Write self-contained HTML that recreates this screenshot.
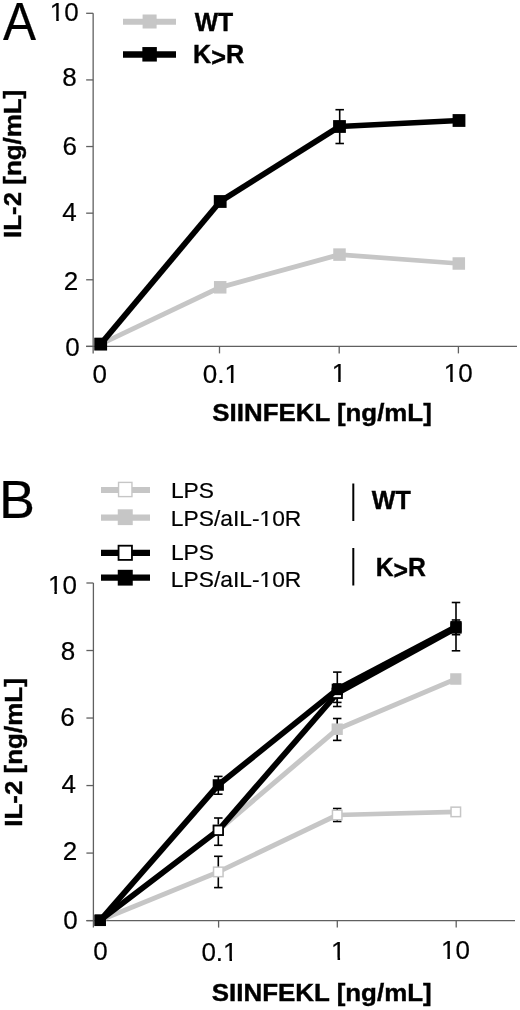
<!DOCTYPE html>
<html><head><meta charset="utf-8"><title>IL-2 response to SIINFEKL</title>
<style>html,body{margin:0;padding:0;background:#fff;width:520px;height:1010px;overflow:hidden}svg{display:block;filter:blur(0.3px)}text{font-family:"Liberation Sans",Arial,Helvetica,sans-serif}</style>
</head><body>
<svg width="520" height="1010" viewBox="0 0 520 1010" font-family="Liberation Sans, Arial, Helvetica, sans-serif" fill="#000">
<text x="2.93" y="39.85" font-size="52.80" stroke="#000" stroke-width="0.2" textLength="33.05" lengthAdjust="spacingAndGlyphs">A</text>
<text x="49.80" y="20.90" font-size="26.00" stroke="#000" stroke-width="0.2">10</text>
<rect x="50.58" y="18.76" width="5.66" height="3.24" fill="#fff"/>
<rect x="58.74" y="18.76" width="5.55" height="3.24" fill="#fff"/>
<text x="62.29" y="86.37" font-size="26.00" stroke="#000" stroke-width="0.2">8</text>
<text x="62.50" y="155.39" font-size="26.00" stroke="#000" stroke-width="0.2">6</text>
<text x="62.27" y="220.80" font-size="26.00" stroke="#000" stroke-width="0.2">4</text>
<text x="63.82" y="289.61" font-size="26.00" stroke="#000" stroke-width="0.2">2</text>
<text x="65.25" y="355.62" font-size="26.00" stroke="#000" stroke-width="0.2">0</text>
<text x="92.50" y="382.61" font-size="26.00" stroke="#000" stroke-width="0.2">0</text>
<text x="202.76" y="382.80" font-size="26.00" stroke="#000" stroke-width="0.2">0.1</text>
<rect x="225.21" y="380.76" width="5.66" height="3.24" fill="#fff"/>
<rect x="233.36" y="380.76" width="5.55" height="3.24" fill="#fff"/>
<text x="331.75" y="382.25" font-size="26.00" stroke="#000" stroke-width="0.2">1</text>
<rect x="332.53" y="379.76" width="5.66" height="3.24" fill="#fff"/>
<rect x="340.69" y="379.76" width="5.55" height="3.24" fill="#fff"/>
<text x="443.85" y="382.30" font-size="26.00" stroke="#000" stroke-width="0.2">10</text>
<rect x="444.63" y="379.76" width="5.66" height="3.24" fill="#fff"/>
<rect x="452.79" y="379.76" width="5.55" height="3.24" fill="#fff"/>
<text x="212.35" y="421.30" font-size="24.20" font-weight="bold" stroke="#000" stroke-width="0.4" textLength="219.45" lengthAdjust="spacingAndGlyphs">SIINFEKL [ng/mL]</text>
<text x="0" y="0" font-size="24.80" font-weight="bold" stroke="#000" stroke-width="0.4" textLength="148.21" lengthAdjust="spacingAndGlyphs" transform="translate(21.26,237.96) rotate(-90)">IL-2 [ng/mL]</text>
<text x="194.67" y="30.59" font-size="25.80" font-weight="bold" stroke="#000" stroke-width="0.4" textLength="38.52" lengthAdjust="spacingAndGlyphs">WT</text>
<text x="193.08" y="63.25" font-size="25.80" font-weight="bold" stroke="#000" stroke-width="0.4" textLength="51.16" lengthAdjust="spacingAndGlyphs">K<tspan dy="2.4">&gt;</tspan><tspan dy="-2.4">R</tspan></text>
<line x1="93.15" y1="13.3" x2="93.15" y2="353.4" stroke="#606060" stroke-width="1.3"/>
<line x1="86.15" y1="346.4" x2="93.15" y2="346.4" stroke="#606060" stroke-width="1.3"/>
<line x1="86.15" y1="279.78" x2="93.15" y2="279.78" stroke="#606060" stroke-width="1.3"/>
<line x1="86.15" y1="213.16" x2="93.15" y2="213.16" stroke="#606060" stroke-width="1.3"/>
<line x1="86.15" y1="146.54" x2="93.15" y2="146.54" stroke="#606060" stroke-width="1.3"/>
<line x1="86.15" y1="79.92000000000002" x2="93.15" y2="79.92000000000002" stroke="#606060" stroke-width="1.3"/>
<line x1="86.15" y1="13.300000000000011" x2="93.15" y2="13.300000000000011" stroke="#606060" stroke-width="1.3"/>
<line x1="86.15" y1="346.4" x2="517" y2="346.4" stroke="#606060" stroke-width="1.3"/>
<line x1="219.5" y1="346.4" x2="219.5" y2="353.4" stroke="#606060" stroke-width="1.3"/>
<line x1="339.2" y1="346.4" x2="339.2" y2="353.4" stroke="#606060" stroke-width="1.3"/>
<line x1="458.4" y1="346.4" x2="458.4" y2="353.4" stroke="#606060" stroke-width="1.3"/>
<line x1="123" y1="21.7" x2="176" y2="21.7" stroke="#c6c6c6" stroke-width="6"/>
<rect x="142.60" y="14.50" width="14" height="14" fill="#c6c6c6"/>
<line x1="123" y1="54.6" x2="176" y2="54.6" stroke="#000" stroke-width="6.5"/>
<rect x="142.35" y="47.05" width="14.5" height="14.5" fill="#000"/>
<line x1="100.70" y1="344.10" x2="220.20" y2="287.30" stroke="#c6c6c6" stroke-width="4.92"/>
<line x1="220.20" y1="287.30" x2="339.50" y2="254.60" stroke="#c6c6c6" stroke-width="4.83"/>
<line x1="339.50" y1="254.60" x2="458.80" y2="263.50" stroke="#c6c6c6" stroke-width="4.74"/>
<rect x="94.45" y="337.85" width="12.5" height="12.5" fill="#c6c6c6"/>
<rect x="213.95" y="281.05" width="12.5" height="12.5" fill="#c6c6c6"/>
<rect x="333.25" y="248.35" width="12.5" height="12.5" fill="#c6c6c6"/>
<rect x="452.55" y="257.25" width="12.5" height="12.5" fill="#c6c6c6"/>
<line x1="339.7" y1="109.7" x2="339.7" y2="143.5" stroke="#000" stroke-width="1.6"/>
<line x1="335.45" y1="109.7" x2="343.95" y2="109.7" stroke="#000" stroke-width="1.6"/>
<line x1="335.45" y1="143.5" x2="343.95" y2="143.5" stroke="#000" stroke-width="1.6"/>
<line x1="100.70" y1="344.10" x2="220.20" y2="201.50" stroke="#000" stroke-width="5.80"/>
<line x1="220.20" y1="201.50" x2="339.50" y2="126.50" stroke="#000" stroke-width="5.77"/>
<line x1="339.50" y1="126.50" x2="459.00" y2="120.50" stroke="#000" stroke-width="5.43"/>
<rect x="94.30" y="337.70" width="12.8" height="12.8" fill="#000"/>
<rect x="213.80" y="195.10" width="12.8" height="12.8" fill="#000"/>
<rect x="333.10" y="120.10" width="12.8" height="12.8" fill="#000"/>
<rect x="452.60" y="114.10" width="12.8" height="12.8" fill="#000"/>
<text x="-1.08" y="518.25" font-size="52.80" stroke="#000" stroke-width="0.2" textLength="35.98" lengthAdjust="spacingAndGlyphs">B</text>
<text x="47.94" y="593.50" font-size="26.00" stroke="#000" stroke-width="0.2">10</text>
<rect x="48.72" y="590.76" width="5.66" height="3.24" fill="#fff"/>
<rect x="56.87" y="590.76" width="5.55" height="3.24" fill="#fff"/>
<text x="60.67" y="659.97" font-size="26.00" stroke="#000" stroke-width="0.2">8</text>
<text x="60.27" y="726.34" font-size="26.00" stroke="#000" stroke-width="0.2">6</text>
<text x="61.57" y="793.20" font-size="26.00" stroke="#000" stroke-width="0.2">4</text>
<text x="62.87" y="860.29" font-size="26.00" stroke="#000" stroke-width="0.2">2</text>
<text x="63.24" y="928.89" font-size="26.00" stroke="#000" stroke-width="0.2">0</text>
<text x="93.29" y="959.82" font-size="26.00" stroke="#000" stroke-width="0.2">0</text>
<text x="201.38" y="960.70" font-size="26.00" stroke="#000" stroke-width="0.2">0.1</text>
<rect x="223.83" y="958.76" width="5.66" height="3.24" fill="#fff"/>
<rect x="231.98" y="958.76" width="5.55" height="3.24" fill="#fff"/>
<text x="331.11" y="959.95" font-size="26.00" stroke="#000" stroke-width="0.2">1</text>
<rect x="331.89" y="957.76" width="5.66" height="3.24" fill="#fff"/>
<rect x="340.05" y="957.76" width="5.55" height="3.24" fill="#fff"/>
<text x="440.94" y="959.30" font-size="26.00" stroke="#000" stroke-width="0.2">10</text>
<rect x="441.72" y="956.76" width="5.66" height="3.24" fill="#fff"/>
<rect x="449.87" y="956.76" width="5.55" height="3.24" fill="#fff"/>
<text x="211.84" y="1001.28" font-size="24.20" font-weight="bold" stroke="#000" stroke-width="0.4" textLength="219.85" lengthAdjust="spacingAndGlyphs">SIINFEKL [ng/mL]</text>
<text x="0" y="0" font-size="24.80" font-weight="bold" stroke="#000" stroke-width="0.4" textLength="148.55" lengthAdjust="spacingAndGlyphs" transform="translate(21.76,826.77) rotate(-90)">IL-2 [ng/mL]</text>
<text x="371.84" y="509.26" font-size="26.40" font-weight="bold" stroke="#000" stroke-width="0.4" textLength="38.99" lengthAdjust="spacingAndGlyphs">WT</text>
<text x="375.74" y="576.10" font-size="26.40" font-weight="bold" stroke="#000" stroke-width="0.4" textLength="50.18" lengthAdjust="spacingAndGlyphs">K<tspan dy="2.4">&gt;</tspan><tspan dy="-2.4">R</tspan></text>
<text x="170.92" y="498.40" font-size="22.80" stroke="#000" stroke-width="0.2">LPS</text>
<text x="170.81" y="525.71" font-size="22.80" stroke="#000" stroke-width="0.2">LPS/aIL-10R</text>
<rect x="260.04" y="524.00" width="5.10" height="3.00" fill="#fff"/>
<rect x="267.36" y="524.00" width="5.02" height="3.00" fill="#fff"/>
<text x="170.92" y="560.05" font-size="22.80" stroke="#000" stroke-width="0.2">LPS</text>
<text x="170.81" y="586.81" font-size="22.80" stroke="#000" stroke-width="0.2">LPS/aIL-10R</text>
<rect x="260.04" y="585.00" width="5.10" height="3.00" fill="#fff"/>
<rect x="267.36" y="585.00" width="5.02" height="3.00" fill="#fff"/>
<line x1="93.4" y1="583.0" x2="93.4" y2="927.6" stroke="#606060" stroke-width="1.3"/>
<line x1="86.4" y1="920.6" x2="93.4" y2="920.6" stroke="#606060" stroke-width="1.3"/>
<line x1="86.4" y1="853.08" x2="93.4" y2="853.08" stroke="#606060" stroke-width="1.3"/>
<line x1="86.4" y1="785.56" x2="93.4" y2="785.56" stroke="#606060" stroke-width="1.3"/>
<line x1="86.4" y1="718.04" x2="93.4" y2="718.04" stroke="#606060" stroke-width="1.3"/>
<line x1="86.4" y1="650.52" x2="93.4" y2="650.52" stroke="#606060" stroke-width="1.3"/>
<line x1="86.4" y1="583.0" x2="93.4" y2="583.0" stroke="#606060" stroke-width="1.3"/>
<line x1="86.4" y1="920.6" x2="515" y2="920.6" stroke="#606060" stroke-width="1.3"/>
<line x1="218.6" y1="920.6" x2="218.6" y2="927.6" stroke="#606060" stroke-width="1.3"/>
<line x1="337.3" y1="920.6" x2="337.3" y2="927.6" stroke="#606060" stroke-width="1.3"/>
<line x1="456.2" y1="920.6" x2="456.2" y2="927.6" stroke="#606060" stroke-width="1.3"/>
<line x1="101" y1="490" x2="150" y2="490" stroke="#c6c6c6" stroke-width="6.2"/>
<rect x="118.55" y="482.40" width="13.4" height="14.2" fill="#fff" stroke="#c6c6c6" stroke-width="1.4"/>
<line x1="101" y1="517.7" x2="150" y2="517.7" stroke="#c6c6c6" stroke-width="6.2"/>
<rect x="117.75" y="509.30" width="15" height="15.8" fill="#c6c6c6"/>
<line x1="101" y1="552.9" x2="150" y2="552.9" stroke="#000" stroke-width="6.2"/>
<rect x="118.55" y="545.70" width="13.4" height="14.2" fill="#fff" stroke="#000" stroke-width="1.8"/>
<line x1="101" y1="577.7" x2="150" y2="577.7" stroke="#000" stroke-width="6.2"/>
<rect x="117.75" y="569.80" width="15" height="15.8" fill="#000"/>
<line x1="353.3" y1="483.5" x2="353.3" y2="521" stroke="#000" stroke-width="2"/>
<line x1="353.3" y1="548" x2="353.3" y2="585.5" stroke="#000" stroke-width="2"/>
<line x1="218.3" y1="856.3" x2="218.3" y2="887.6" stroke="#000" stroke-width="1.6"/>
<line x1="214.05" y1="856.3" x2="222.55" y2="856.3" stroke="#000" stroke-width="1.6"/>
<line x1="214.05" y1="887.6" x2="222.55" y2="887.6" stroke="#000" stroke-width="1.6"/>
<line x1="337.2" y1="808.5" x2="337.2" y2="821.5" stroke="#000" stroke-width="1.6"/>
<line x1="332.95" y1="808.5" x2="341.45" y2="808.5" stroke="#000" stroke-width="1.6"/>
<line x1="332.95" y1="821.5" x2="341.45" y2="821.5" stroke="#000" stroke-width="1.6"/>
<line x1="337.2" y1="718.5" x2="337.2" y2="740.4" stroke="#000" stroke-width="1.6"/>
<line x1="332.95" y1="718.5" x2="341.45" y2="718.5" stroke="#000" stroke-width="1.6"/>
<line x1="332.95" y1="740.4" x2="341.45" y2="740.4" stroke="#000" stroke-width="1.6"/>
<line x1="218.3" y1="818" x2="218.3" y2="845.3" stroke="#000" stroke-width="1.6"/>
<line x1="214.05" y1="818" x2="222.55" y2="818" stroke="#000" stroke-width="1.6"/>
<line x1="214.05" y1="845.3" x2="222.55" y2="845.3" stroke="#000" stroke-width="1.6"/>
<line x1="337.2" y1="684" x2="337.2" y2="706.5" stroke="#000" stroke-width="1.6"/>
<line x1="332.95" y1="684" x2="341.45" y2="684" stroke="#000" stroke-width="1.6"/>
<line x1="332.95" y1="706.5" x2="341.45" y2="706.5" stroke="#000" stroke-width="1.6"/>
<line x1="456" y1="620" x2="456" y2="634.7" stroke="#000" stroke-width="1.6"/>
<line x1="451.75" y1="620" x2="460.25" y2="620" stroke="#000" stroke-width="1.6"/>
<line x1="451.75" y1="634.7" x2="460.25" y2="634.7" stroke="#000" stroke-width="1.6"/>
<line x1="218.3" y1="776.4" x2="218.3" y2="794.2" stroke="#000" stroke-width="1.6"/>
<line x1="214.05" y1="776.4" x2="222.55" y2="776.4" stroke="#000" stroke-width="1.6"/>
<line x1="214.05" y1="794.2" x2="222.55" y2="794.2" stroke="#000" stroke-width="1.6"/>
<line x1="337.3" y1="672.1" x2="337.3" y2="702.4" stroke="#000" stroke-width="1.6"/>
<line x1="333.05" y1="672.1" x2="341.55" y2="672.1" stroke="#000" stroke-width="1.6"/>
<line x1="333.05" y1="702.4" x2="341.55" y2="702.4" stroke="#000" stroke-width="1.6"/>
<line x1="456" y1="602.5" x2="456" y2="650.8" stroke="#000" stroke-width="1.6"/>
<line x1="451.75" y1="602.5" x2="460.25" y2="602.5" stroke="#000" stroke-width="1.6"/>
<line x1="451.75" y1="650.8" x2="460.25" y2="650.8" stroke="#000" stroke-width="1.6"/>
<line x1="100.20" y1="920.30" x2="218.30" y2="871.90" stroke="#c6c6c6" stroke-width="4.89"/>
<line x1="218.30" y1="871.90" x2="337.20" y2="815.00" stroke="#c6c6c6" stroke-width="4.92"/>
<line x1="337.20" y1="815.00" x2="455.80" y2="811.90" stroke="#c6c6c6" stroke-width="4.71"/>
<rect x="95.45" y="915.55" width="9.5" height="9.5" fill="#fff" stroke="#c6c6c6" stroke-width="1.5"/>
<rect x="213.55" y="867.15" width="9.5" height="9.5" fill="#fff" stroke="#c6c6c6" stroke-width="1.5"/>
<rect x="332.45" y="810.25" width="9.5" height="9.5" fill="#fff" stroke="#c6c6c6" stroke-width="1.5"/>
<rect x="451.05" y="807.15" width="9.5" height="9.5" fill="#fff" stroke="#c6c6c6" stroke-width="1.5"/>
<line x1="100.20" y1="920.30" x2="218.30" y2="830.30" stroke="#c6c6c6" stroke-width="5.00"/>
<line x1="218.30" y1="830.30" x2="337.20" y2="729.20" stroke="#c6c6c6" stroke-width="5.00"/>
<line x1="337.20" y1="729.20" x2="455.80" y2="679.00" stroke="#c6c6c6" stroke-width="4.90"/>
<rect x="94.60" y="914.55" width="11.2" height="11.5" fill="#c6c6c6"/>
<rect x="212.70" y="824.55" width="11.2" height="11.5" fill="#c6c6c6"/>
<rect x="331.60" y="723.45" width="11.2" height="11.5" fill="#c6c6c6"/>
<rect x="450.20" y="673.25" width="11.2" height="11.5" fill="#c6c6c6"/>
<line x1="100.20" y1="920.30" x2="218.30" y2="830.30" stroke="#000" stroke-width="5.80"/>
<line x1="218.30" y1="830.30" x2="337.20" y2="693.30" stroke="#000" stroke-width="5.80"/>
<line x1="337.20" y1="693.30" x2="456.00" y2="628.00" stroke="#000" stroke-width="5.73"/>
<rect x="95.45" y="915.55" width="9.5" height="9.5" fill="#fff" stroke="#000" stroke-width="1.8"/>
<rect x="213.55" y="825.55" width="9.5" height="9.5" fill="#fff" stroke="#000" stroke-width="1.8"/>
<rect x="332.45" y="688.55" width="9.5" height="9.5" fill="#fff" stroke="#000" stroke-width="1.8"/>
<rect x="451.25" y="623.25" width="9.5" height="9.5" fill="#fff" stroke="#000" stroke-width="1.8"/>
<line x1="100.20" y1="920.30" x2="218.30" y2="785.00" stroke="#000" stroke-width="5.80"/>
<line x1="218.30" y1="785.00" x2="337.30" y2="689.40" stroke="#000" stroke-width="5.80"/>
<line x1="337.30" y1="689.40" x2="456.00" y2="626.80" stroke="#000" stroke-width="5.72"/>
<rect x="94.60" y="914.55" width="11.2" height="11.5" fill="#000"/>
<rect x="212.70" y="779.25" width="11.2" height="11.5" fill="#000"/>
<rect x="331.70" y="683.65" width="11.2" height="11.5" fill="#000"/>
<rect x="450.40" y="621.05" width="11.2" height="11.5" fill="#000"/>
</svg>
</body></html>
